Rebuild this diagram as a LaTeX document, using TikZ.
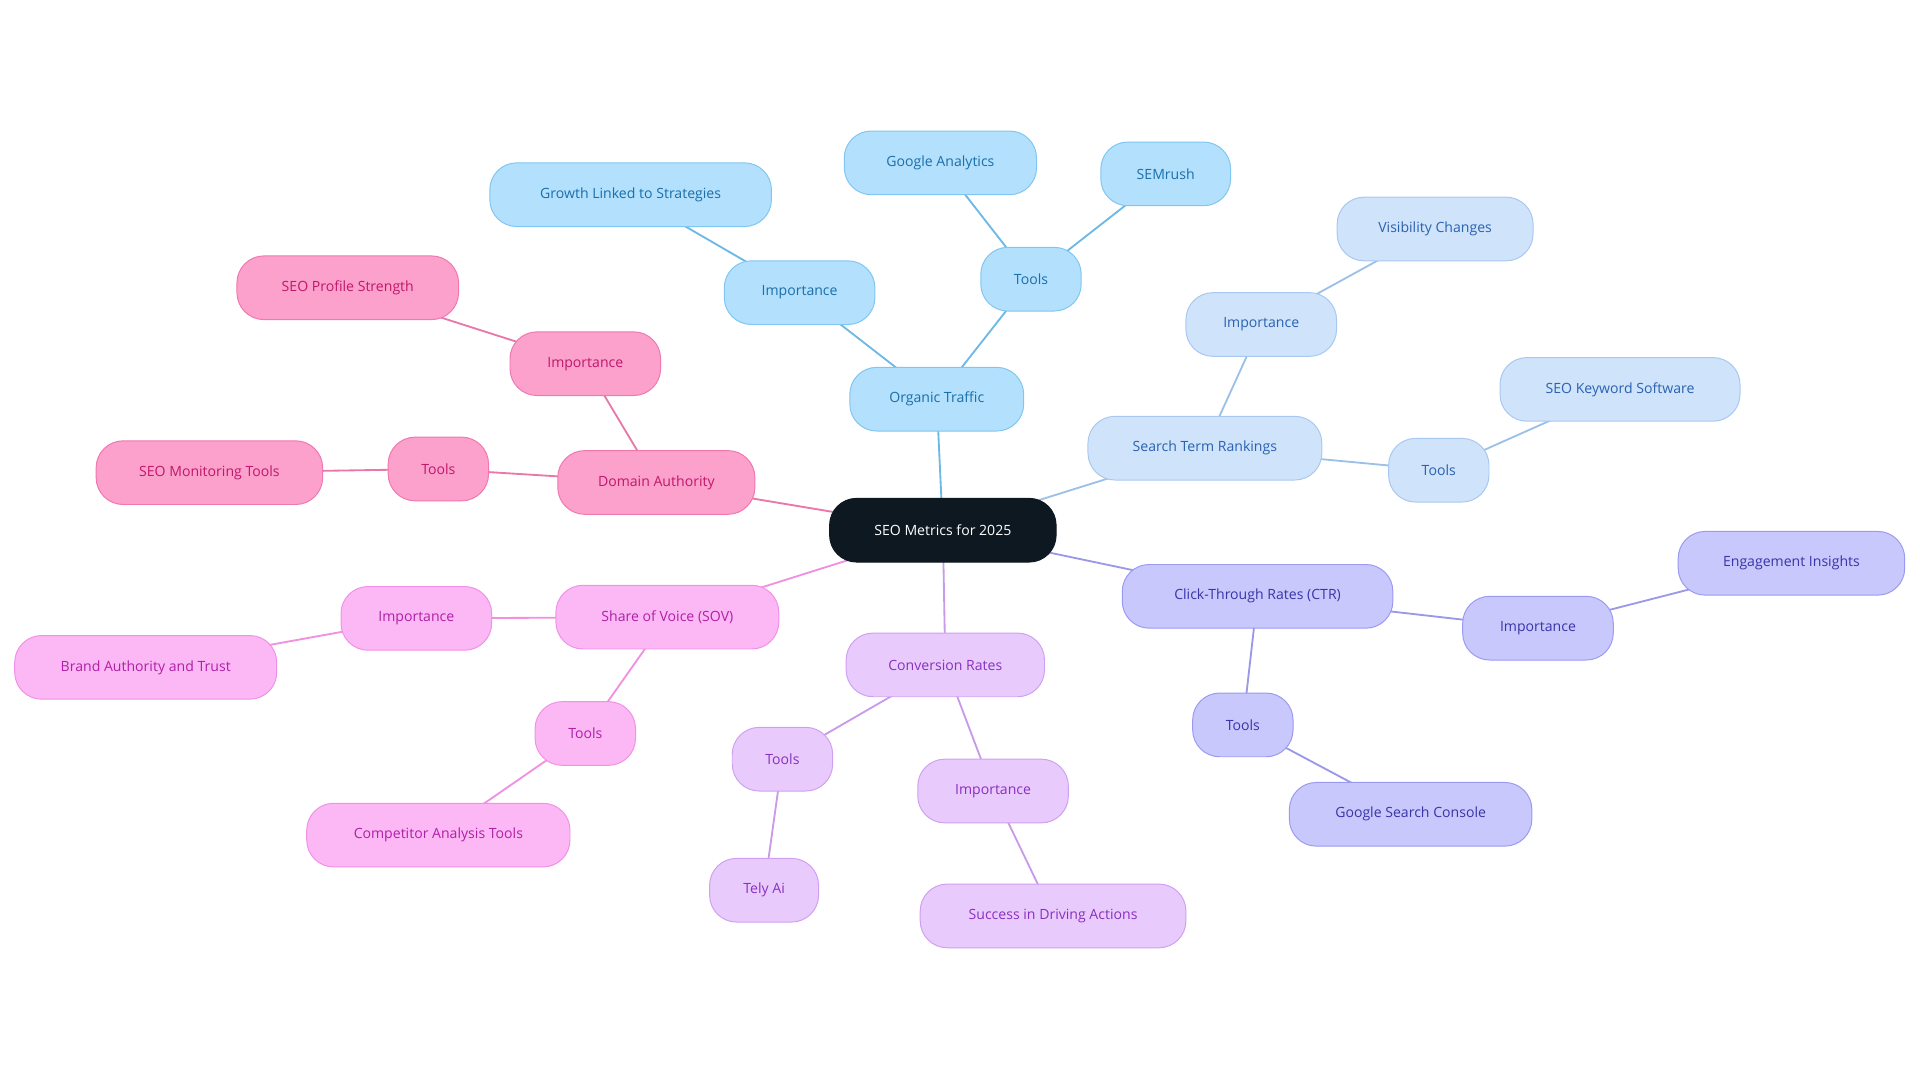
\documentclass[tikz,border=0pt]{standalone}
\usepackage{fontspec}
\setmainfont{Open Sans}
\usetikzlibrary{backgrounds}
\definecolor{cC}{HTML}{0D1821}
\definecolor{oF}{HTML}{B3E0FC}\definecolor{oD}{HTML}{80C6F0}\definecolor{oT}{HTML}{1B6FAA}\definecolor{oL}{HTML}{6CB8E6}
\definecolor{sF}{HTML}{CFE3FB}\definecolor{sD}{HTML}{A8C8F0}\definecolor{sT}{HTML}{2A62B0}\definecolor{sL}{HTML}{9CC0E8}
\definecolor{tF}{HTML}{C8C8FC}\definecolor{tD}{HTML}{9A9AF0}\definecolor{tT}{HTML}{3A35A8}\definecolor{tL}{HTML}{9A98E8}
\definecolor{vF}{HTML}{E8CBFC}\definecolor{vD}{HTML}{D0A0F0}\definecolor{vT}{HTML}{8A30C0}\definecolor{vL}{HTML}{C89AE8}
\definecolor{pF}{HTML}{FCB8F4}\definecolor{pD}{HTML}{F090E8}\definecolor{pT}{HTML}{B020A8}\definecolor{pL}{HTML}{F090E0}
\definecolor{dF}{HTML}{FCA0CC}\definecolor{dD}{HTML}{F078B0}\definecolor{dT}{HTML}{C0186C}\definecolor{dL}{HTML}{E878A8}
\tikzset{
 box/.style={rounded corners=22pt,minimum height=52pt,inner sep=0pt,font=\fontsize{11.5}{13}\selectfont,line width=0.8pt},
 bo/.style={box,fill=oF,draw=oD,text=oT},
 bs/.style={box,fill=sF,draw=sD,text=sT},
 bt/.style={box,fill=tF,draw=tD,text=tT},
 bv/.style={box,fill=vF,draw=vD,text=vT},
 bp/.style={box,fill=pF,draw=pD,text=pT},
 bd/.style={box,fill=dF,draw=dD,text=dT},
 ln/.style={line width=1.5pt}
}
\begin{document}
\begin{tikzpicture}[x=1pt,y=-1pt]
\useasboundingbox (0,0) rectangle (1568,884);
\node[box,fill=cC,draw=cC,text=white,minimum width=185pt] (c) at (770,433) {SEO Metrics for 2025};
\node[bo,minimum width=142pt] (o) at (765,326) {Organic Traffic};
\node[bo,minimum width=123pt] (oi) at (653,239) {Importance};
\node[bo,minimum width=230pt] (og) at (515,159) {Growth Linked to Strategies};
\node[bo,minimum width=82pt] (ot) at (842,228) {Tools};
\node[bo,minimum width=157pt] (oga) at (768,133) {Google Analytics};
\node[bo,minimum width=106pt] (osm) at (952,142) {SEMrush};
\node[bs,minimum width=191pt] (s) at (984,366) {Search Term Rankings};
\node[bs,minimum width=123pt] (si) at (1030,265) {Importance};
\node[bs,minimum width=160pt] (sv) at (1172,187) {Visibility Changes};
\node[bs,minimum width=82pt] (st) at (1175,384) {Tools};
\node[bs,minimum width=196pt] (sk) at (1323,318) {SEO Keyword Software};
\node[bt,minimum width=221pt] (t) at (1027,487) {Click-Through Rates (CTR)};
\node[bt,minimum width=123pt] (ti) at (1256,513) {Importance};
\node[bt,minimum width=185pt] (te) at (1463,460) {Engagement Insights};
\node[bt,minimum width=82pt] (tt) at (1015,592) {Tools};
\node[bt,minimum width=198pt] (tg) at (1152,665) {Google Search Console};
\node[bv,minimum width=162pt] (v) at (772,543) {Conversion Rates};
\node[bv,minimum width=82pt] (vt) at (639,620) {Tools};
\node[bv,minimum width=89pt] (vy) at (624,727) {Tely Ai};
\node[bv,minimum width=123pt] (vi) at (811,646) {Importance};
\node[bv,minimum width=217pt] (vs) at (860,748) {Success in Driving Actions};
\node[bp,minimum width=182pt] (p) at (545,504) {Share of Voice (SOV)};
\node[bp,minimum width=123pt] (pi) at (340,505) {Importance};
\node[bp,minimum width=214pt] (pb) at (119,545) {Brand Authority and Trust};
\node[bp,minimum width=82pt] (pt) at (478,599) {Tools};
\node[bp,minimum width=215pt] (pc) at (358,682) {Competitor Analysis Tools};
\node[bd,minimum width=161pt] (d) at (536,394) {Domain Authority};
\node[bd,minimum width=123pt] (di) at (478,297) {Importance};
\node[bd,minimum width=181pt] (dp) at (284,235) {SEO Profile Strength};
\node[bd,minimum width=82pt] (dt) at (358,383) {Tools};
\node[bd,minimum width=185pt] (dm) at (171,386) {SEO Monitoring Tools};
\begin{scope}[on background layer]
\draw[ln,oL] (c.center)--(o.center) (o.center)--(oi.center) (oi.center)--(og.center) (o.center)--(ot.center) (ot.center)--(oga.center) (ot.center)--(osm.center);
\draw[ln,sL] (c.center)--(s.center) (s.center)--(si.center) (si.center)--(sv.center) (s.center)--(st.center) (st.center)--(sk.center);
\draw[ln,tL] (c.center)--(t.center) (t.center)--(ti.center) (ti.center)--(te.center) (t.center)--(tt.center) (tt.center)--(tg.center);
\draw[ln,vL] (c.center)--(v.center) (v.center)--(vt.center) (vt.center)--(vy.center) (v.center)--(vi.center) (vi.center)--(vs.center);
\draw[ln,pL] (c.center)--(p.center) (p.center)--(pi.center) (pi.center)--(pb.center) (p.center)--(pt.center) (pt.center)--(pc.center);
\draw[ln,dL] (c.center)--(d.center) (d.center)--(di.center) (di.center)--(dp.center) (d.center)--(dt.center) (dt.center)--(dm.center);
\end{scope}
\end{tikzpicture}
\end{document}
